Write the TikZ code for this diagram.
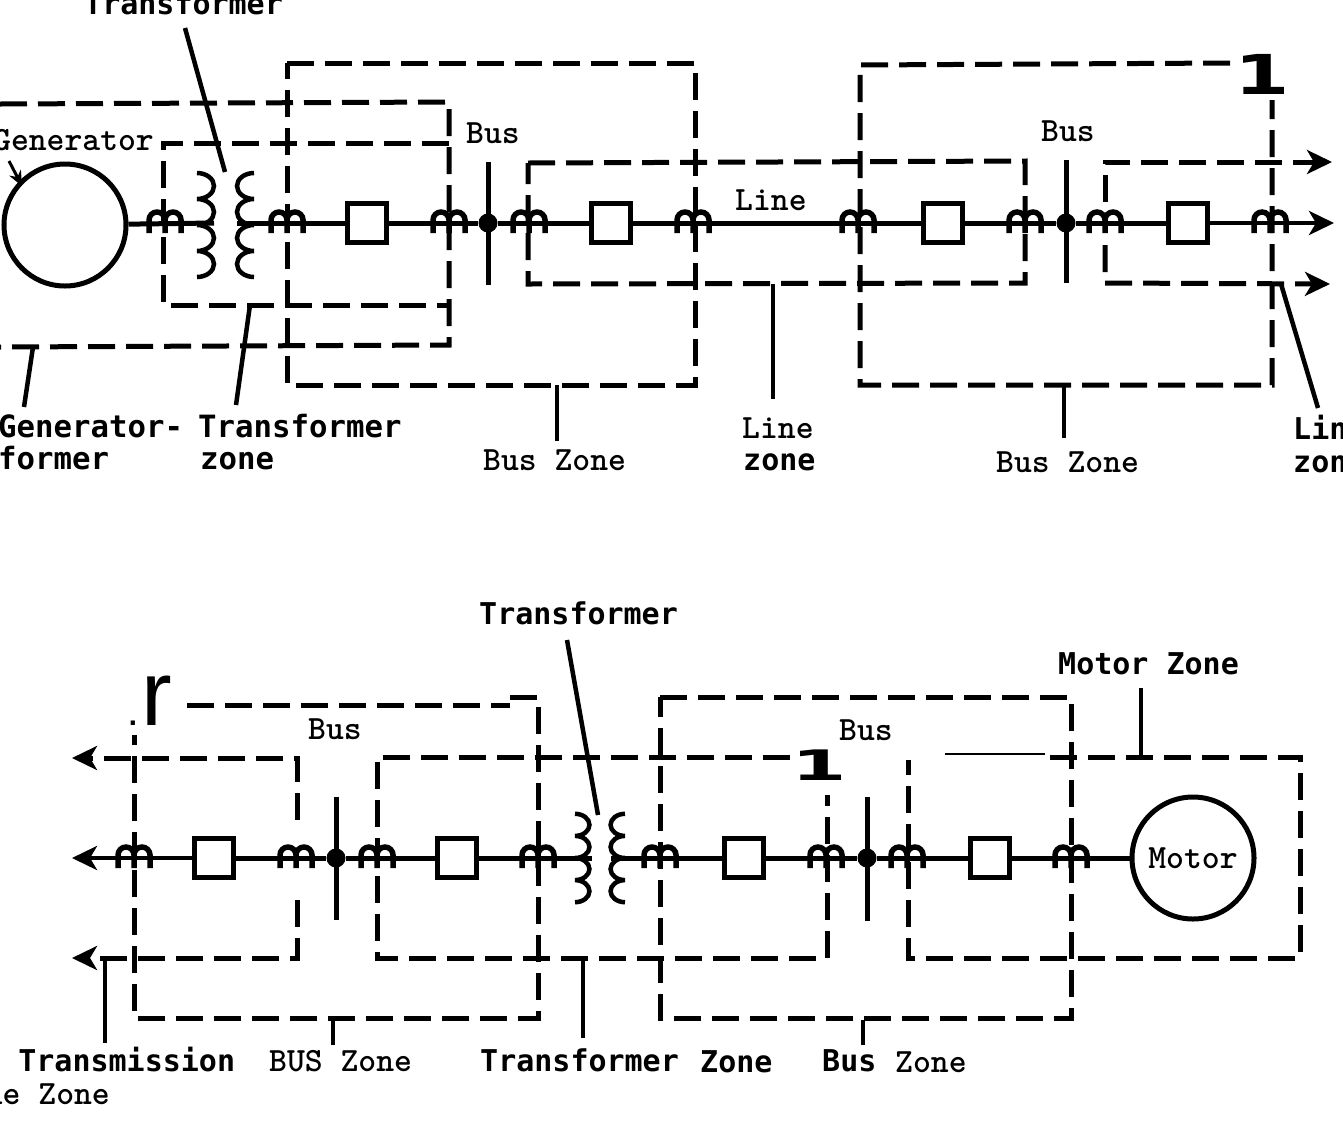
\documentclass[tikz,border=0pt]{standalone}
\usepackage{fontspec}
\newfontfamily\labelfont{DejaVu Sans Mono}
\newfontfamily\heavyfont{DejaVu Sans}
\newfontfamily\thinfont{Liberation Sans}
\usetikzlibrary{positioning}
\usetikzlibrary{arrows.meta}

\begin{document}
\begin{tikzpicture}[
        x=1pt,
        y=1pt,
        wire/.style={
            line width=5pt,
        },
        feed/.style={
            line width=4.5pt,
            -{Stealth[length=25pt,width=24pt,inset=7pt]},
        },
        zone/.style={
            line width=5pt,
            dash pattern=on 27pt off 11pt,
        },
        openzone/.style={
            zone,
            -{Stealth[length=25pt,width=24pt,inset=7pt]},
        },
        leader/.style={
            line width=4.5pt,
        },
        breaker/.style={
            draw,
            line width=5pt,
            rectangle,
            minimum size=39pt,
            inner sep=0pt,
        },
        busdot/.style={
            fill=black,
            circle,
            minimum size=19pt,
            inner sep=0pt,
        },
        machine/.style={
            draw,
            line width=5pt,
            circle,
            inner sep=0pt,
        },
        boldtext/.style={
            anchor=base west,
            inner sep=0pt,
            font=\labelfont\bfseries\fontsize{30}{30}\selectfont,
        },
        widetext/.style={
            anchor=base west,
            inner sep=0pt,
            font=\labelfont\bfseries\fontsize{30.7}{30.7}\selectfont,
        },
        scantext/.style={
            anchor=base west,
            inner sep=0pt,
            font=\ttfamily\bfseries\fontsize{34}{34}\selectfont,
        },
        ct/.pic={
            \draw[line width=5.5pt] (-16,-10) -- (-16,3) arc (180:0:8) -- (0,-10);
            \draw[line width=5.5pt] (0,3) arc (180:0:8) -- (16,-10);
        },
        coilright/.pic={
            \draw[line width=4.5pt] (0,52)
                arc[start angle=90,end angle=-90,x radius=17,y radius=13]
                arc[start angle=90,end angle=-90,x radius=17,y radius=13]
                arc[start angle=90,end angle=-90,x radius=17,y radius=13]
                arc[start angle=90,end angle=-90,x radius=17,y radius=13];
        },
        coilleft/.pic={
            \draw[line width=4.5pt] (0,52)
                arc[start angle=90,end angle=270,x radius=17,y radius=13]
                arc[start angle=90,end angle=270,x radius=17,y radius=13]
                arc[start angle=90,end angle=270,x radius=17,y radius=13]
                arc[start angle=90,end angle=270,x radius=17,y radius=13];
        },
    ]
    \useasboundingbox (0,0) rectangle (1343,-1136);
    \clip (0,0) rectangle (1343,-1136);

    % Define the upper row.
    \node[machine,minimum size=122pt] (gen) at (65,-225) {};

    \coordinate (tapA) at (214,-223);
    \coordinate (tapB) at (237,-223);

    \node[breaker] (brkA) at (367,-223) {};
    \node[busdot] (busA) at (488,-223) {};
    \node[breaker] (brkB) at (611,-223) {};
    \node[breaker] (brkC) at (943,-223) {};
    \node[busdot] (busB) at (1066,-223) {};
    \node[breaker] (brkD) at (1188,-223) {};
    \coordinate (feedA) at (1334,-223);

    \coordinate[above=61pt of busA.center] (busAt);
    \coordinate[below=62pt of busA.center] (busAb);
    \coordinate[above=63pt of busB.center] (busBt);
    \coordinate[below=60pt of busB.center] (busBb);

    % Draw the upper line.
    \draw[wire] (gen) to (tapA);
    \draw[wire] (tapB) to (brkA);
    \draw[wire] (brkA) to (busA);
    \draw[wire] (busA) to (brkB);
    \draw[wire] (brkB) to (brkC);
    \draw[wire] (brkC) to (busB);
    \draw[wire] (busB) to (brkD);
    \draw[feed] (brkD) to (feedA);

    \draw[wire] (busAt) to (busAb);
    \draw[wire] (busBt) to (busBb);

    \pic at (197,-225) {coilright};
    \pic at (254,-225) {coilleft};

    \pic at (165,-223) {ct};
    \pic at (287,-223) {ct};
    \pic at (449,-223) {ct};
    \pic at (529,-223) {ct};
    \pic at (693,-223) {ct};
    \pic at (858,-223) {ct};
    \pic at (1025,-223) {ct};
    \pic at (1105,-223) {ct};
    \pic at (1270,-223) {ct};

    % Draw the upper zones.
    \draw[zone] (0,-104) to (449,-102) to (449,-345) to (0,-347);
    \draw[zone] (449,-143) to (163,-143) to (163,-305) to (449,-305);
    \draw[zone] (287,-63) to (695,-63) to (695,-385) to (287,-385) to cycle;
    \draw[zone] (528,-163) to (1025,-161) to (1025,-283) to (528,-284) to cycle;
    \draw[zone] (1230,-63) to (860,-65) to (860,-385) to (1272,-385) to (1272,-100);
    \draw[openzone] (1105,-202) to (1105,-162) to (1332,-162);
    \draw[openzone] (1105,-245) to (1105,-283) to (1330,-284);

    % Draw the upper labels.
    \node[boldtext] (txtA) at (84,-14) {Transformer};
    \node[scantext] (txtB) at (-7,-150) {Generator};
    \node[scantext] (txtC) at (466,-143) {Bus};
    \node[scantext] (txtD) at (1041,-141) {Bus};
    \node[scantext] (txtE) at (735,-210) {Line};
    \node[widetext] (txtF) at (-2,-437) {Generator-};
    \node[widetext] (txtG) at (-2,-469) {former};
    \node[widetext] (txtH) at (198,-437) {Transformer};
    \node[widetext] (txtI) at (200,-469) {zone};
    \node[scantext] (txtJ) at (483,-470) {Bus Zone};
    \node[scantext] (txtK) at (742,-438) {Line};
    \node[boldtext] (txtL) at (743,-470) {zone};
    \node[scantext] (txtM) at (996,-472) {Bus Zone};
    \node[boldtext] (txtN) at (1293,-439) {Lin};
    \node[boldtext] (txtO) at (1293,-472) {zon};
    \node[anchor=center,inner sep=0pt] (oneA) at (1262,-74)
        {\scalebox{1.45}[1]{\heavyfont\bfseries\fontsize{55}{55}\selectfont 1}};

    % Draw the upper leaders.
    \coordinate (ldA) at (185,-28);
    \coordinate (ldAe) at (225,-172);
    \draw[leader] (ldA) to (ldAe);
    \coordinate (ldB) at (9,-161);
    \coordinate (ldBe) at (22,-186);
    \draw[line width=3pt,-{Stealth[length=15pt,width=13pt]}] (ldB) to (ldBe);
    \coordinate (ldC) at (33,-347);
    \coordinate (ldCe) at (24,-407);
    \draw[leader] (ldC) to (ldCe);
    \coordinate (ldD) at (250,-305);
    \coordinate (ldDe) at (236,-405);
    \draw[leader] (ldD) to (ldDe);
    \coordinate (ldE) at (557,-385);
    \coordinate (ldEe) at (557,-441);
    \draw[leader] (ldE) to (ldEe);
    \coordinate (ldF) at (773,-284);
    \coordinate (ldFe) at (773,-399);
    \draw[leader] (ldF) to (ldFe);
    \coordinate (ldG) at (1064,-385);
    \coordinate (ldGe) at (1064,-438);
    \draw[leader] (ldG) to (ldGe);
    \coordinate (ldH) at (1281,-284);
    \coordinate (ldHe) at (1318,-408);
    \draw[leader] (ldH) to (ldHe);

    % Define the lower row.
    \node[machine,minimum size=122pt,font=\ttfamily\bfseries\fontsize{34}{34}\selectfont] (mot) at (1193,-858) {Motor};

    \coordinate (tapC) at (592,-858);
    \coordinate (tapD) at (611,-858);

    \coordinate (feedB) at (72,-858);
    \node[breaker] (brkE) at (214,-858) {};
    \node[busdot] (busC) at (336,-858) {};
    \node[breaker] (brkF) at (457,-858) {};
    \node[breaker] (brkG) at (744,-858) {};
    \node[busdot] (busD) at (867,-858) {};
    \node[breaker] (brkH) at (990,-858) {};

    \coordinate[above=61pt of busC.center] (busCt);
    \coordinate[below=62pt of busC.center] (busCb);
    \coordinate[above=61pt of busD.center] (busDt);
    \coordinate[below=63pt of busD.center] (busDb);

    % Draw the lower line.
    \draw[feed] (brkE) to (feedB);
    \draw[wire] (brkE) to (busC);
    \draw[wire] (busC) to (brkF);
    \draw[wire] (brkF) to (tapC);
    \draw[wire] (tapD) to (brkG);
    \draw[wire] (brkG) to (busD);
    \draw[wire] (busD) to (brkH);
    \draw[wire] (brkH) to (mot);

    \draw[wire] (busCt) to (busCb);
    \draw[wire] (busDt) to (busDb);

    \pic[scale=0.85] at (575,-858) {coilright};
    \pic[scale=0.85] at (625,-858) {coilleft};

    \pic at (134,-858) {ct};
    \pic at (296,-858) {ct};
    \pic at (377,-858) {ct};
    \pic at (538,-858) {ct};
    \pic at (660,-858) {ct};
    \pic at (826,-858) {ct};
    \pic at (907,-858) {ct};
    \pic at (1071,-858) {ct};

    % Draw the lower zones.
    \draw[openzone] (297,-820) to (297,-758) to (72,-758);
    \draw[openzone] (297,-900) to (297,-958) to (72,-958);
    \draw[zone] (187,-705) to (510,-705);
    \draw[zone] (510,-697) to (538,-697) to (538,-1018) to (134,-1018) to (134,-735);
    \draw[zone] (790,-757) to (377,-757) to (377,-958) to (827,-958) to (827,-795);
    \draw[zone] (660,-697) to (1071,-697) to (1071,-1018) to (660,-1018) to cycle;
    \draw[zone] (1050,-757) to (1300,-757) to (1300,-958) to (908,-958) to (908,-760);
    \draw[line width=2pt] (945,-754) to (1045,-754);

    % Draw the lower labels.
    \node[boldtext] (txtP) at (479,-624) {Transformer};
    \node[boldtext] (txtQ) at (1058,-674) {Motor Zone};
    \node[scantext] (txtR) at (308,-739) {Bus};
    \node[scantext] (txtS) at (839,-740) {Bus};
    \node[boldtext] (txtT) at (-36,-1071) {to Transmission};
    \node[scantext] (txtU) at (269,-1071) {BUS Zone};
    \node[boldtext] (txtV) at (480,-1071) {Transformer};
    \node[boldtext] (txtW) at (700,-1072) {Zone};
    \node[boldtext] (txtX) at (822,-1071) {Bus};
    \node[scantext] (txtY) at (895,-1072) {Zone};
    \node[scantext] (txtZ) at (-51,-1104) {Line Zone};
    \node[anchor=center,inner sep=0pt] (oneB) at (819,-765)
        {\scalebox{1.9}[1]{\heavyfont\bfseries\fontsize{42}{42}\selectfont 1}};
    \node[anchor=base,inner sep=0pt,font=\thinfont\fontsize{92}{92}\selectfont] (cornerA) at (157,-725) {r};
    \node[anchor=base,inner sep=0pt,font=\heavyfont\bfseries\fontsize{24}{24}\selectfont] (cornerB) at (133,-725) {.};

    % Draw the lower leaders.
    \coordinate (ldI) at (567,-640);
    \coordinate (ldIe) at (598,-815);
    \draw[leader] (ldI) to (ldIe);
    \coordinate (ldJ) at (1141,-688);
    \coordinate (ldJe) at (1141,-757);
    \draw[leader] (ldJ) to (ldJe);
    \coordinate (ldK) at (105,-1043);
    \coordinate (ldKe) at (105,-958);
    \draw[leader] (ldK) to (ldKe);
    \coordinate (ldL) at (333,-1018);
    \coordinate (ldLe) at (333,-1045);
    \draw[leader] (ldL) to (ldLe);
    \coordinate (ldM) at (583,-958);
    \coordinate (ldMe) at (583,-1038);
    \draw[leader] (ldM) to (ldMe);
    \coordinate (ldN) at (863,-1020);
    \coordinate (ldNe) at (863,-1045);
    \draw[leader] (ldN) to (ldNe);

\end{tikzpicture}
\end{document}
